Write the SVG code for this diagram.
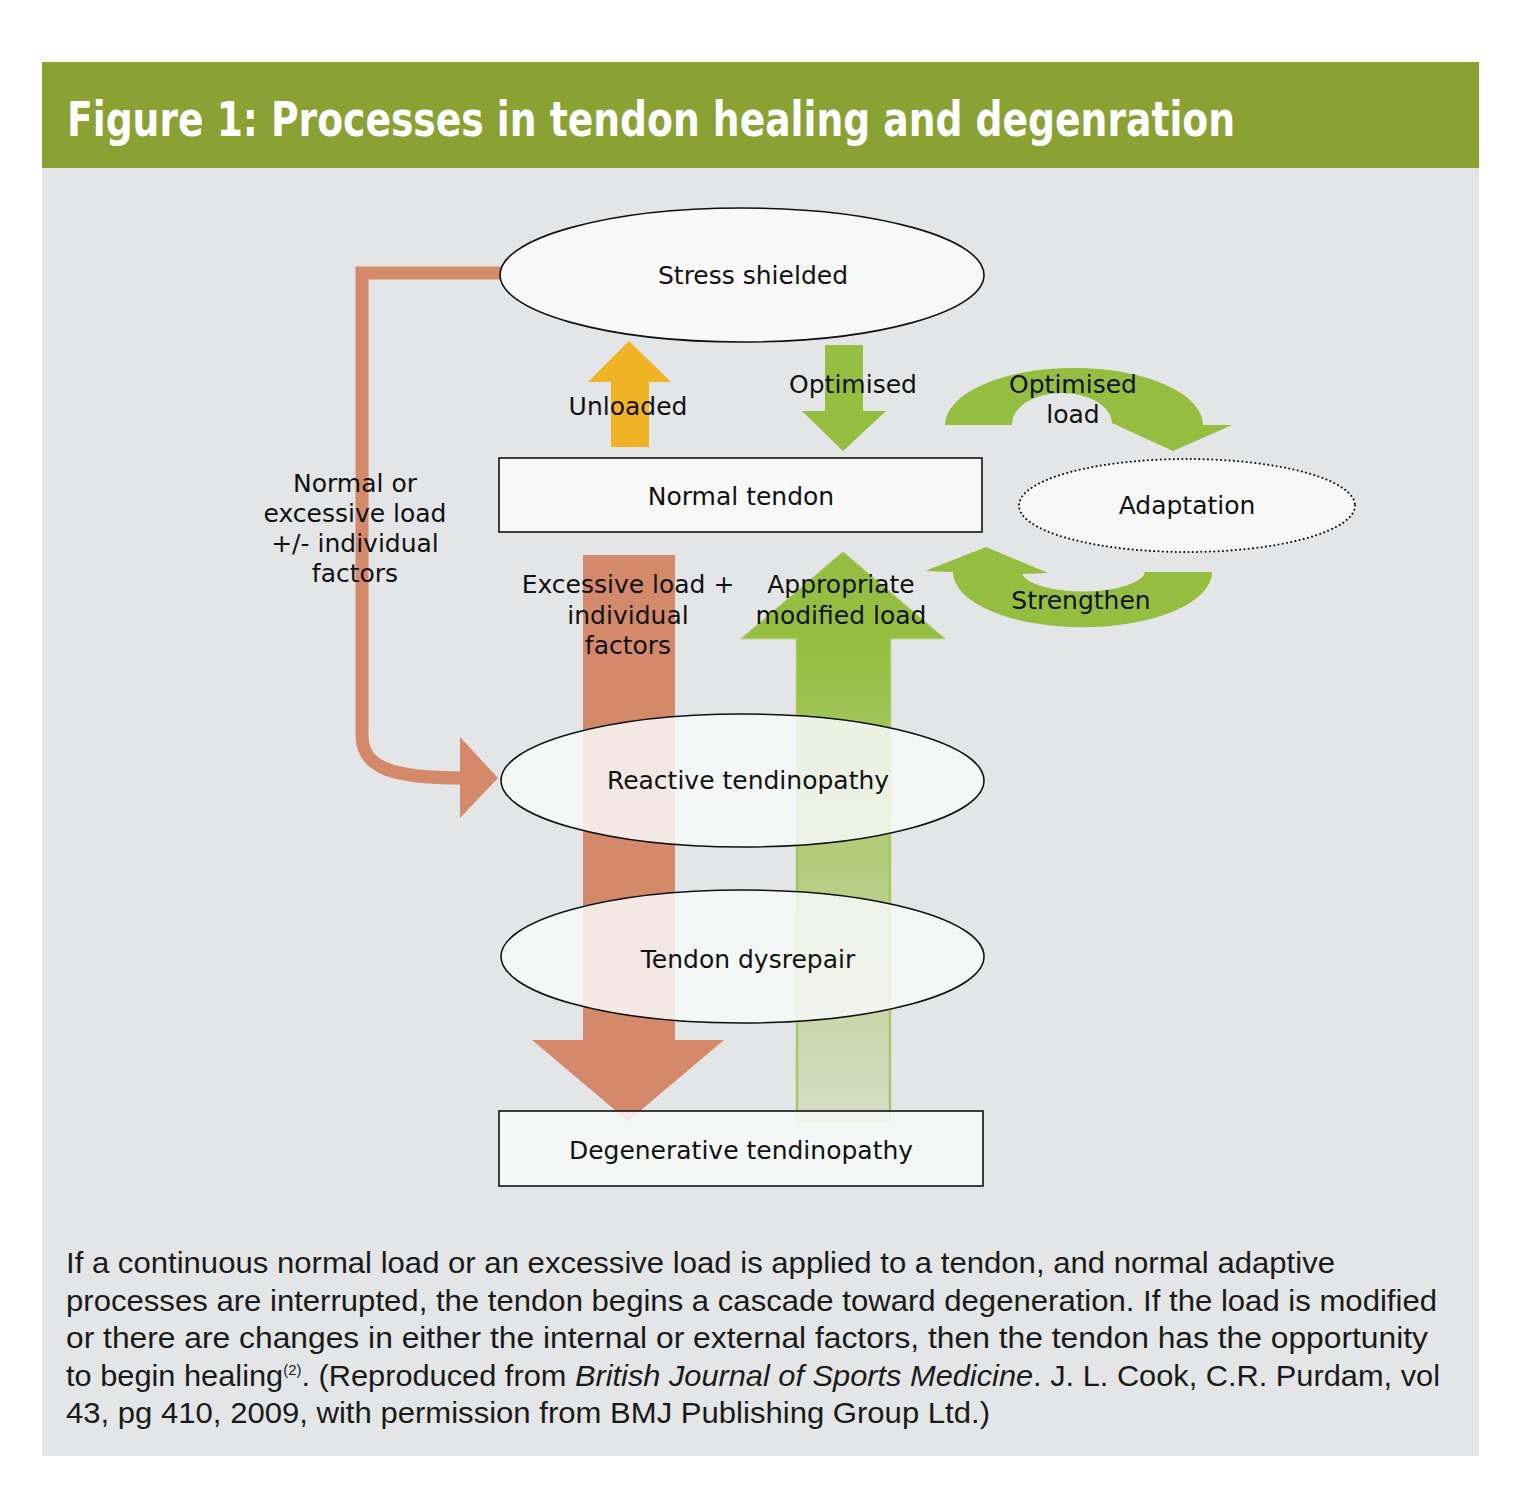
<svg xmlns="http://www.w3.org/2000/svg" width="1523" height="1505" viewBox="0 0 1523 1505">
  <defs>
    <style>
      .lbl { font-family: "DejaVu Sans", "Liberation Sans", sans-serif; font-size: 25px; fill: #111; text-anchor: middle; }
      .cap { font-family: "Liberation Sans", Arial, sans-serif; font-size: 29px; fill: #1a1a1a; }
      .node { fill: #f8f8f8; stroke: #111; stroke-width: 1.6; }
      .nodeT { fill: #f8f8f8; fill-opacity: 0.86; stroke: #111; stroke-width: 1.6; }
      .salmon { fill: #D4896A; }
      .green { fill: #94BE3F; }
    </style>
    <linearGradient id="fade" gradientUnits="userSpaceOnUse" x1="0" y1="640" x2="0" y2="1122">
      <stop offset="0" stop-color="#94BE3F"/>
      <stop offset="1" stop-color="#D8DDC8"/>
    </linearGradient>
  </defs>

  <rect x="0" y="0" width="1523" height="1505" fill="#ffffff"/>
  <rect x="42" y="62" width="1437" height="1394" fill="#E4E5E6"/>
  <rect x="42" y="62" width="1437" height="106" fill="#8AA233"/>
  <text x="67" y="136" font-family="'DejaVu Sans Condensed', 'DejaVu Sans', sans-serif" font-weight="bold" font-size="48" fill="#ffffff" textLength="1168" lengthAdjust="spacingAndGlyphs">Figure 1: Processes in tendon healing and degenration</text>

  <g id="connectors">
    <g id="c-normal-excessive">
      <path d="M501,273 H362 V735 C362,768 392,778 462,778" fill="none" stroke="#D4896A" stroke-width="13" stroke-linejoin="miter"/>
      <polygon class="salmon" points="460,737 498,778 460,818"/>
      <text class="lbl"><tspan x="355" y="492">Normal or</tspan><tspan x="355" y="522">excessive load</tspan><tspan x="355" y="552">+/- individual</tspan><tspan x="355" y="582">factors</tspan></text>
    </g>
    <g id="c-unloaded">
      <polygon fill="#F0B323" points="611,447 611,382 588,382 629,341 671,382 649,382 649,447"/>
      <text class="lbl" x="628" y="415">Unloaded</text>
    </g>
    <g id="c-optimised">
      <polygon class="green" points="825,345 863,345 863,411 886,411 843,451 802,411 825,411"/>
      <text class="lbl" x="853" y="393">Optimised</text>
    </g>
    <g id="c-optimised-load">
      <path class="green" d="M945,425 A129,57 0 0 1 1203,425 L1232,425 L1173,451 L1112,423 A50,31 0 0 0 1012,425 Z"/>
      <text class="lbl"><tspan x="1073" y="393">Optimised</tspan><tspan x="1073" y="423">load</tspan></text>
    </g>
    <g id="c-strengthen">
      <path class="green" d="M1212,572 A129,55 0 0 1 953,572 L925,571 L986,547 L1048,573 L1022,574 A62,21 0 0 0 1145,572 Z"/>
      <text class="lbl" x="1081" y="609">Strengthen</text>
    </g>
    <g id="c-excessive">
      <polygon class="salmon" points="583,555 675,555 675,1040 724,1040 628,1121 532,1040 583,1040"/>
      <text class="lbl"><tspan x="628" y="593">Excessive load +</tspan><tspan x="628" y="624">individual</tspan><tspan x="628" y="654">factors</tspan></text>
    </g>
    <g id="c-appropriate">
      <polygon fill="url(#fade)" stroke="#9CC24A" stroke-opacity="0.8" stroke-width="2.5" points="797,1121 797,638 743,638 843,553 943,638 890,638 890,1121"/>
      <polygon class="green" points="743,638 843,553 943,638"/>
      <text class="lbl"><tspan x="841" y="593">Appropriate</tspan><tspan x="841" y="624">modified load</tspan></text>
    </g>
  </g>

  <g id="n-stress">
    <ellipse class="node" cx="742" cy="275" rx="242" ry="67"/>
    <text class="lbl" x="753" y="284">Stress shielded</text>
  </g>
  <g id="n-normal">
    <rect class="node" x="499" y="458" width="483" height="74"/>
    <text class="lbl" x="741" y="505">Normal tendon</text>
  </g>
  <g id="n-adaptation">
    <ellipse fill="#f8f8f8" stroke="#111" stroke-width="2" stroke-dasharray="0.1,4.2" stroke-linecap="round" cx="1187" cy="505.5" rx="168" ry="46.5"/>
    <text class="lbl" x="1187" y="514">Adaptation</text>
  </g>
  <g id="n-reactive">
    <ellipse class="nodeT" cx="742.5" cy="780.5" rx="241.5" ry="66.5"/>
    <text class="lbl" x="748" y="789">Reactive tendinopathy</text>
  </g>
  <g id="n-dysrepair">
    <ellipse class="nodeT" cx="742.5" cy="956.5" rx="241.5" ry="66.5"/>
    <text class="lbl" x="748" y="968">Tendon dysrepair</text>
  </g>
  <g id="n-degenerative">
    <rect class="nodeT" x="499" y="1111" width="484" height="75"/>
    <text class="lbl" x="741" y="1159">Degenerative tendinopathy</text>
  </g>

  <g id="caption">
    <text class="cap" x="66" y="1273" textLength="1269" lengthAdjust="spacingAndGlyphs">If a continuous normal load or an excessive load is applied to a tendon, and normal adaptive</text>
    <text class="cap" x="66" y="1311" textLength="1371" lengthAdjust="spacingAndGlyphs">processes are interrupted, the tendon begins a cascade toward degeneration. If the load is modified</text>
    <text class="cap" x="66" y="1348" textLength="1362" lengthAdjust="spacingAndGlyphs">or there are changes in either the internal or external factors, then the tendon has the opportunity</text>
    <text class="cap" x="66" y="1386" textLength="1374" lengthAdjust="spacingAndGlyphs">to begin healing<tspan font-size="14" dy="-11">(2)</tspan><tspan dy="11">. (Reproduced from </tspan><tspan font-style="italic">British Journal of Sports Medicine</tspan>. J. L. Cook, C.R. Purdam, vol</text>
    <text class="cap" x="66" y="1423" textLength="924" lengthAdjust="spacingAndGlyphs">43, pg 410, 2009, with permission from BMJ Publishing Group Ltd.)</text>
  </g>
</svg>
